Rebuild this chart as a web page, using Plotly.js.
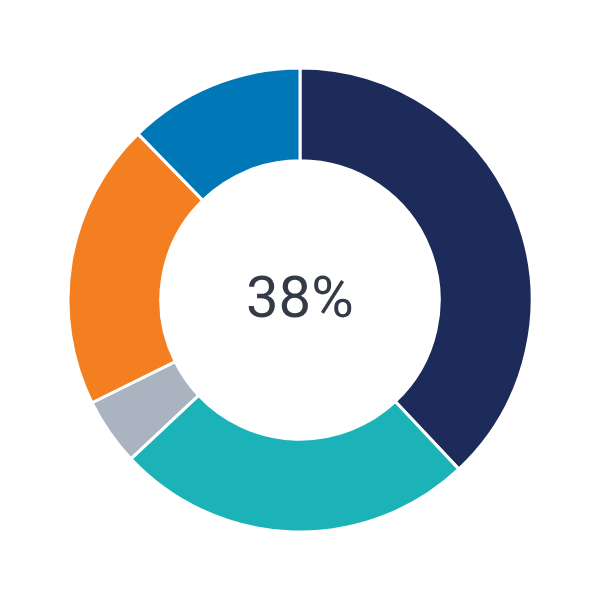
<!DOCTYPE html>
<html>
<head>
<meta charset="utf-8">
<script src="https://cdn.plot.ly/plotly-3.0.1.min.js"></script>
<style>
  html, body { margin: 0; padding: 0; background: #fff; }
  #chart { width: 600px; height: 600px; }
</style>
</head>
<body>
<div id="chart"></div>
<script>
/* Donut share chart, first slice highlighted in centre */

const labels = ['Segment A', 'Segment B', 'Segment C', 'Segment D', 'Segment E'];
const values = [38, 25, 4.7, 20, 12.3];
const colors = ['#1c2b5a', '#1bb3b7', '#a9b4c0', '#f47f20', '#0077b6'];
const centerLabel = '38%';

const trace = {
    type: 'pie',
    labels: labels,
    values: values,
    hole: 0.6,
    sort: false,
    direction: 'clockwise',
    rotation: 0,
    textinfo: 'none',
    hoverinfo: 'label+percent',
    marker: { colors: colors, line: { color: '#ffffff', width: 3 } },
    domain: { x: [0.1133, 0.8867], y: [0.1133, 0.8867] },
};

const layout = {
    width: 600,
    height: 600,
    margin: { t: 0, r: 0, b: 0, l: 0 },
    showlegend: false,
    paper_bgcolor: '#ffffff',
    annotations: [{
        text: centerLabel,
        x: 0.5, y: 0.505,
        xref: 'paper', yref: 'paper',
        showarrow: false,
        font: { family: 'Roboto, Arial, sans-serif', size: 58, color: '#343a46' },
    }],
};

Plotly.newPlot('chart', [trace], layout, { staticPlot: true });
</script>
</body>
</html>
